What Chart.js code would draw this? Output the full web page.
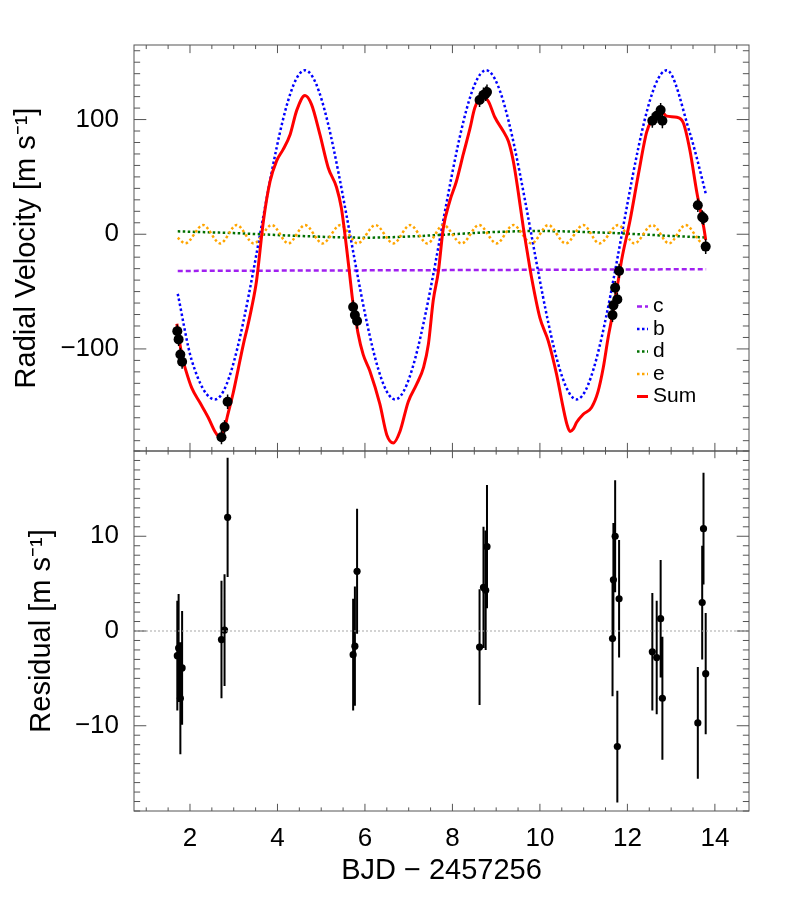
<!DOCTYPE html>
<html>
<head>
<meta charset="utf-8">
<script src="https://cdn.jsdelivr.net/npm/chart.js@4.4.1/dist/chart.umd.min.js"></script>
<style>
html, body { margin: 0; padding: 0; background: #fff; }
#wrap { position: relative; width: 789px; height: 902px; }
#wrap canvas { position: absolute; left: 0; top: 0; }
</style>
</head>
<body>
<div id="wrap">
  <canvas id="rvChart" width="789" height="902"></canvas>
  <canvas id="resChart" width="789" height="902"></canvas>
</div>
<script>
// observations, time in BJD - 2457256
let obsTime = [1.71, 1.74, 1.78, 1.82, 2.72, 2.79, 2.86, 5.73, 5.77, 5.82,
    8.62, 8.71, 8.76, 8.79, 11.66, 11.68, 11.72, 11.77, 11.81,
    12.57, 12.67, 12.76, 12.80, 13.61, 13.71, 13.74, 13.79];
let obsRV = [-84.5, -91.7, -104.8, -111.2, -177, -168, -146, -63.5, -70.5, -75.7,
    117, 121.5, 122.5, 124, -70.5, -62, -46.6, -56.8, -32,
    99, 103.3, 108.3, 99, 25.3, 15, 14, -10.8];
let obsErr = [5.8, 5.7, 5.9, 6.0, 6.2, 5.9, 6.3, 5.9, 6.3, 6.6,
    6.1, 6.4, 6.3, 6.5, 6.1, 6.0, 5.9, 5.9, 6.2,
    6.2, 6.0, 6.2, 6.5, 5.9, 6.0, 5.9, 6.4];
let residual = [-2.6, -1.8, -7.1, -3.9, -0.9, 0.1, 12.0, -2.5, -1.6, 6.3,
    -1.7, 4.6, 4.3, 8.9, -0.8, 5.4, 10.0, -12.2, 3.4,
    -2.2, -2.8, 1.3, -7.1, -9.7, 3.0, 10.8, -4.5];

// model curves
let cTime = [1.72, 7.7, 13.80];
let cRV = [-32, -31.3, -30.5];

let bTime = [1.72, 2.04, 2.57, 4.63, 6.69, 8.77, 10.84, 12.90, 13.43, 13.59, 13.80];
let bRV = [-52, -110, -144, 143, -144, 143, -144, 143, 88, 66, 34];

let dTime = [1.72, 3.0, 4.5, 6.0, 7.0, 8.0, 9.0, 10.0, 11.0, 12.0, 13.0, 13.80];
let dRV = [2.5, 1, -1.5, -3, -2, 0, 2, 2.8, 2, 0.5, -1.5, -2.8];

let eTime = [1.72, 1.89, 2.30, 2.69, 3.07, 3.46, 3.87, 4.25, 4.63, 5.03, 5.44, 5.83,
    6.24, 6.65, 7.03, 7.43, 7.79, 8.21, 8.61, 9.01, 9.39, 9.81, 10.19, 10.59,
    10.99, 11.36, 11.79, 12.16, 12.57, 12.95, 13.33, 13.74, 13.80];
let eRV = [-3, -8, 8, -8, 8, -8, 8, -8, 8, -8, 8, -8,
    8, -8, 8, -8, 8, -8, 8, -8, 8, -8, 8, -8,
    8, -8, 8, -8, 8, -8, 8, -8, -7.5];

let sumTime = [1.70, 1.74, 1.78, 1.82, 1.90, 2.04, 2.23, 2.42, 2.57, 2.68, 2.72, 2.79,
    2.86, 2.99, 3.10, 3.22, 3.32, 3.41, 3.52, 3.68, 3.83, 3.98, 4.13, 4.29,
    4.44, 4.63, 4.78, 4.97, 5.16, 5.35, 5.46, 5.58, 5.65, 5.73, 5.77, 5.84,
    5.96, 6.11, 6.34, 6.50, 6.65, 6.80, 6.99, 7.18, 7.34, 7.45, 7.56, 7.68,
    7.79, 7.94, 8.09, 8.25, 8.40, 8.51, 8.68, 8.82, 8.97, 9.16, 9.28, 9.39,
    9.50, 9.62, 9.73, 9.81, 10.00, 10.19, 10.38, 10.53, 10.62, 10.69, 10.76, 10.84,
    10.99, 11.18, 11.33, 11.45, 11.56, 11.66, 11.72, 11.77, 11.81, 11.87, 12.06, 12.25,
    12.44, 12.56, 12.67, 12.80, 12.90, 13.13, 13.28, 13.43, 13.59, 13.70, 13.75, 13.79];
let sumRV = [-78, -89, -98, -107, -118, -134, -147, -160, -172, -177, -176, -169,
    -158, -138, -118, -96, -80, -64, -41, 12, 46, 64, 74, 87,
    108, 121, 113, 87, 58, 41, 23, -12, -35, -61, -69, -86,
    -105, -119, -148, -175, -182, -172, -146, -131, -116, -96, -58, -32,
    5, 29, 46, 70, 92, 110, 120, 116, 102, 90, 81, 64,
    38, 6, -20, -38, -73, -93, -122, -151, -166, -172, -170, -164,
    -157, -151, -137, -116, -90, -70, -56, -45, -36, -22, 12, 52,
    89, 100, 106, 106, 103, 102, 97, 73, 36, 15, 5, -5];

let xTicks = [2, 4, 6, 8, 10, 12, 14];
let rvTicks = [-100, 0, 100];
let resTicks = [-10, 0, 10];
let legendLabels = ["c", "b", "d", "e", "Sum"];

const family = '"Liberation Sans", Helvetica, Arial, sans-serif';
const xMin = 0.72, xMax = 14.78;

function pts(xs, ys) {
    return xs.map((x, i) => ({ x: x, y: ys[i] }));
}

// vertical error bars as one broken line
function errBars(xs, ys, es) {
    let out = [];
    xs.forEach((x, i) => {
        out.push({ x: x, y: ys[i] - es[i] }, { x: x, y: ys[i] + es[i] }, { x: x, y: null });
    });
    return out;
}

function model(label, xs, ys, color, dash, width, order) {
    return {
        label: label, data: pts(xs, ys), borderColor: color, borderDash: dash,
        borderWidth: width, borderCapStyle: 'butt', pointRadius: 0, fill: false,
        cubicInterpolationMode: 'monotone', order: order
    };
}

function minusLabel(v) {
    return v < 0 ? '\u2212' + Math.abs(v) : String(v);
}

function eachTick(scale, minor, major, fn) {
    for (let k = Math.ceil(scale.min / minor - 1e-9); k * minor <= scale.max + 1e-9; k++) {
        let v = k * minor, r = v / major;
        fn(scale.getPixelForValue(v), Math.abs(r - Math.round(r)) < 1e-6);
    }
}

// IDL style box with inward ticks on every side
const frameTicks = {
    id: 'frameTicks',
    afterDraw(chart, args, o) {
        const ctx = chart.ctx, a = chart.chartArea;
        const sx = chart.scales.x, sy = chart.scales.y;
        ctx.save();
        if (o.zeroLine) {
            let y0 = sy.getPixelForValue(0);
            ctx.strokeStyle = '#a8a8a8';
            ctx.lineWidth = 1;
            ctx.setLineDash([2, 2]);
            ctx.beginPath();
            ctx.moveTo(a.left, y0);
            ctx.lineTo(a.right, y0);
            ctx.stroke();
            ctx.setLineDash([]);
        }
        ctx.strokeStyle = '#555';
        ctx.lineWidth = 1;
        const xl = 0.02 * a.height, yl = 0.02 * a.width;
        ctx.beginPath();
        eachTick(sx, o.xMinor, o.xMajor, (px, major) => {
            let len = major ? xl : xl / 2;
            ctx.moveTo(px, a.bottom); ctx.lineTo(px, a.bottom - len);
            ctx.moveTo(px, a.top); ctx.lineTo(px, a.top + len);
        });
        eachTick(sy, o.yMinor, o.yMajor, (py, major) => {
            let len = major ? yl : yl / 2;
            ctx.moveTo(a.left, py); ctx.lineTo(a.left + len, py);
            ctx.moveTo(a.right, py); ctx.lineTo(a.right - len, py);
        });
        ctx.stroke();
        ctx.strokeRect(a.left, a.top, a.right - a.left, a.bottom - a.top);
        ctx.restore();
    }
};

const rvLegend = {
    id: 'rvLegend',
    afterDraw(chart, args, o) {
        const ctx = chart.ctx;
        ctx.save();
        ctx.font = o.size + 'px ' + family;
        ctx.textBaseline = 'middle';
        ctx.textAlign = 'left';
        ctx.fillStyle = '#000';
        o.labels.forEach((lab, i) => {
            let ds = chart.data.datasets.find(d => d.label === lab);
            let y = o.top + i * o.step;
            ctx.strokeStyle = ds.borderColor;
            ctx.lineWidth = ds.borderWidth;
            ctx.setLineDash(ds.borderDash || []);
            ctx.beginPath();
            ctx.moveTo(o.x0, y);
            ctx.lineTo(o.x1, y);
            ctx.stroke();
            ctx.setLineDash([]);
            ctx.fillText(lab, o.x1 + 5, y);
        });
        ctx.restore();
    }
};

new Chart(document.getElementById("rvChart"), {
    type: 'line',
    data: {
        datasets: [
            {
                label: 'data', data: pts(obsTime, obsRV), showLine: false,
                pointRadius: 5, pointBackgroundColor: '#000', pointBorderColor: '#000',
                pointBorderWidth: 0, order: 0
            },
            {
                label: 'err', data: errBars(obsTime, obsRV, obsErr), borderColor: '#000',
                borderWidth: 1.5, pointRadius: 0, spanGaps: false, order: 1
            },
            model('Sum', sumTime, sumRV, '#ff0000', [], 3, 2),
            model('e', eTime, eRV, '#ffa500', [2.5, 2.5], 2.5, 3),
            model('d', dTime, dRV, '#007000', [2.5, 2.5], 2.5, 4),
            model('b', bTime, bRV, '#0000ff', [2.5, 2.5], 2.5, 5),
            model('c', cTime, cRV, '#a020f0', [5, 3], 2.5, 6)
        ]
    },
    options: {
        responsive: false,
        animation: false,
        layout: { padding: { left: 0, right: 40, top: 45, bottom: 451 } },
        plugins: {
            legend: { display: false },
            tooltip: { enabled: false },
            frameTicks: { xMinor: 0.5, xMajor: 2, yMinor: 10, yMajor: 100 },
            rvLegend: { labels: legendLabels, x0: 637, x1: 648, top: 306.5, step: 22.5, size: 21 }
        },
        scales: {
            x: { type: 'linear', display: false, min: xMin, max: xMax },
            y: {
                type: 'linear', min: -189, max: 165,
                afterFit: s => { s.width = 134; },
                afterBuildTicks: s => { s.ticks = rvTicks.map(v => ({ value: v })); },
                grid: { display: false, drawTicks: false },
                border: { display: false },
                ticks: { font: { family: family, size: 26 }, color: '#000', padding: 15, callback: minusLabel },
                title: {
                    display: true, text: 'Radial Velocity [m s\u207B\u00B9]', color: '#000',
                    font: { family: family, size: 29 }, padding: { top: 10, bottom: 0 }
                }
            }
        }
    },
    plugins: [frameTicks, rvLegend]
});

new Chart(document.getElementById("resChart"), {
    type: 'line',
    data: {
        datasets: [
            {
                label: 'res', data: pts(obsTime, residual), showLine: false,
                pointRadius: 3.6, pointBackgroundColor: '#000', pointBorderColor: '#000',
                pointBorderWidth: 0, order: 0
            },
            {
                label: 'resErr', data: errBars(obsTime, residual, obsErr), borderColor: '#000',
                borderWidth: 2, pointRadius: 0, spanGaps: false, order: 1
            }
        ]
    },
    options: {
        responsive: false,
        animation: false,
        layout: { padding: { left: 0, right: 40, top: 451, bottom: 0 } },
        plugins: {
            legend: { display: false },
            tooltip: { enabled: false },
            frameTicks: { xMinor: 0.5, xMajor: 2, yMinor: 1, yMajor: 10, zeroLine: true }
        },
        scales: {
            x: {
                type: 'linear', min: xMin, max: xMax,
                afterFit: s => { s.height = 91; },
                afterBuildTicks: s => { s.ticks = xTicks.map(v => ({ value: v })); },
                grid: { display: false, drawTicks: false },
                border: { display: false },
                ticks: { font: { family: family, size: 26 }, color: '#000', padding: 12, maxRotation: 0, autoSkip: false },
                title: {
                    display: true, text: 'BJD \u2212 2457256', color: '#000',
                    font: { family: family, size: 29 }, padding: { top: 0, bottom: 14 }
                }
            },
            y: {
                type: 'linear', min: -19, max: 19,
                afterFit: s => { s.width = 134; },
                afterBuildTicks: s => { s.ticks = resTicks.map(v => ({ value: v })); },
                grid: { display: false, drawTicks: false },
                border: { display: false },
                ticks: { font: { family: family, size: 26 }, color: '#000', padding: 15, callback: minusLabel },
                title: {
                    display: true, text: 'Residual [m s\u207B\u00B9]', color: '#000',
                    font: { family: family, size: 29 }, padding: { top: 25, bottom: 0 }
                }
            }
        }
    },
    plugins: [frameTicks]
});
</script>
</body>
</html>
